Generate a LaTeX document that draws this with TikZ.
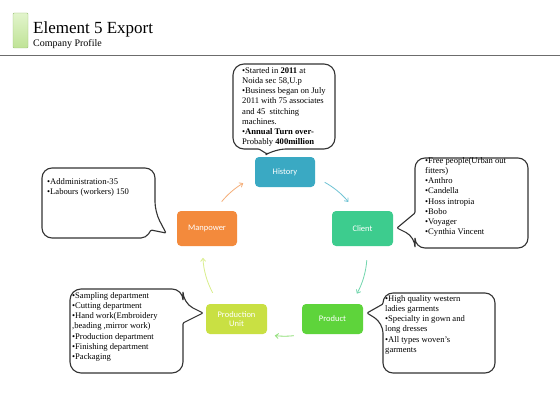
\documentclass[tikz,border=0pt]{standalone}
\usepackage{fontspec}
\setmainfont{Liberation Serif}
\newfontfamily\nodefont{Carlito}
\usetikzlibrary{arrows.meta}
\definecolor{cHist}{HTML}{3AA9C3}
\definecolor{cClient}{HTML}{3DCC8E}
\definecolor{cMan}{HTML}{F38A3C}
\definecolor{cProdU}{HTML}{C9E043}
\definecolor{cProd}{HTML}{5ED43B}
\definecolor{aHist}{HTML}{F5AE78}
\definecolor{aClient}{HTML}{6FC3D4}
\definecolor{aProd}{HTML}{72D6AE}
\definecolor{aProdU}{HTML}{8EDF76}
\definecolor{aMan}{HTML}{D9EE8C}
\definecolor{calline}{HTML}{333333}
\definecolor{tgTop}{HTML}{E2F4CC}
\definecolor{tgBot}{HTML}{BFE396}
\definecolor{tgLine}{HTML}{9CC277}
\begin{document}
\begin{tikzpicture}[x=1pt,y=-1pt,
  stage/.style={rounded corners=4pt, inner sep=0pt, text=white,
    font=\nodefont\fontsize{8.5}{9}\selectfont, align=center},
  callout/.style={draw=calline, line width=1.1pt, fill=white},
  ctext/.style={anchor=north west, inner sep=0pt, align=left,
    font=\fontsize{8.6}{10.1}\selectfont},
  flow/.style={line width=0.8pt, -{Straight Barb[length=3pt,width=5pt]}}]
\useasboundingbox (0,0) rectangle (560,420);
\fill[white] (0,0) rectangle (560,420);

% title
\draw[draw=tgLine, top color=tgTop, bottom color=tgBot, rounded corners=1pt]
  (13,13) rectangle (28,48);
\node[anchor=base west, inner sep=0pt, font=\fontsize{17}{20}\selectfont] (title) at (33,34) {Element 5 Export};
\node[anchor=base west, inner sep=0pt, font=\fontsize{10}{12}\selectfont] (sub) at (33,47) {Company Profile};
\draw[gray!85!black, line width=1.5pt] (0,55.5) -- (560,55.5);

% stage nodes
\node[stage, fill=cHist, minimum width=60pt, minimum height=30pt] (hi) at (285,172) {History};
\node[stage, fill=cClient, minimum width=61pt, minimum height=35pt] (cl) at (362.5,228.5) {Client};
\node[stage, fill=cMan, minimum width=60pt, minimum height=35pt] (mp) at (207,228.5) {Manpower};
\node[stage, fill=cProdU, minimum width=61pt, minimum height=30pt] (pu) at (236.5,319) {Production\\Unit};
\node[stage, fill=cProd, minimum width=61pt, minimum height=30pt] (pr) at (332.5,319) {Product};

% cycle arrows (arcs of the cycle circle, starting next to each node)
\draw[flow, aHist] ([shift={(14.7,-9.2)}]mp.north) arc[start angle=-140.5, end angle=-120.6, radius=82];
\draw[flow, aClient] ([shift={(9.5,-4.9)}]hi.south east) arc[start angle=-61.2, end angle=-39.5, radius=82];
\draw[flow, aProd] ([shift={(4.3,14)}]cl.south) arc[start angle=4.2, end angle=28.8, radius=82];
\draw[flow, aProdU] ([shift={(-8,1.5)}]pr.south west) arc[start angle=83.7, end angle=97, radius=82];
\draw[flow, aMan] ([shift={(6.9,-11)}]pu.north west) arc[start angle=151.6, end angle=177.2, radius=82];

% callouts
\draw[callout, rounded corners=11pt] (284,64) -- (335,64) -- (335,149) -- (275,149)
  [rounded corners=1pt] -- (267,154) -- (259,149) [rounded corners=11pt] -- (233,149) -- (233,64) -- cycle;
\draw[callout, rounded corners=10pt] (470,158) -- (528,158) -- (528,248) -- (415,248) -- (415,237)
  [rounded corners=1pt] -- (397,228) -- (415,213) [rounded corners=10pt] -- (415,158) -- cycle;
\draw[callout, rounded corners=10pt] (100,168) -- (155,168) -- (155,212)
  [rounded corners=1pt] -- (166,233) -- (151,230) [rounded corners=5pt] -- (146,238) [rounded corners=10pt] -- (42,238) -- (42,168) -- cycle;
\draw[callout, rounded corners=11pt] (130,289) -- (183,289) -- (183,303)
  [rounded corners=1pt] -- (203,313) -- (183,323) [rounded corners=11pt] -- (183,373) -- (70,373) -- (70,289) -- cycle;
\draw[callout, rounded corners=10pt] (440,293) -- (495,293) -- (495,373) -- (383,373) -- (383,323)
  [rounded corners=1pt] -- (367,313) -- (383,304) [rounded corners=10pt] -- (383,293) -- cycle;

% callout texts
\node[ctext] (thi) at (242,67.5) {•Started in \textbf{2011} at\\Noida sec 58,U.p\\•Business began on July\\2011 with 75 associates\\and 45~ stitching\\machines.\\•\textbf{Annual Turn over-}\\Probably \textbf{400million}};
\node[ctext] (tcl) at (425,157.5) {•Free people(Urban out\\fitters)\\•Anthro\\•Candella\\•Hoss intropia\\•Bobo\\•Voyager\\•Cynthia Vincent};
\node[ctext] (tmp) at (47,178.5) {•Addministration-35\\•Labours (workers) 150};
\node[ctext] (tpu) at (72,292.5) {•Sampling department\\•Cutting department\\•Hand work(Embroidery\\,beading ,mirror work)\\•Production department\\•Finishing department\\•Packaging};
\node[ctext] (tpr) at (385,295.5) {•High quality western\\ladies garments\\•Specialty in gown and\\long dresses\\•All types woven's\\garments};
\end{tikzpicture}
\end{document}
